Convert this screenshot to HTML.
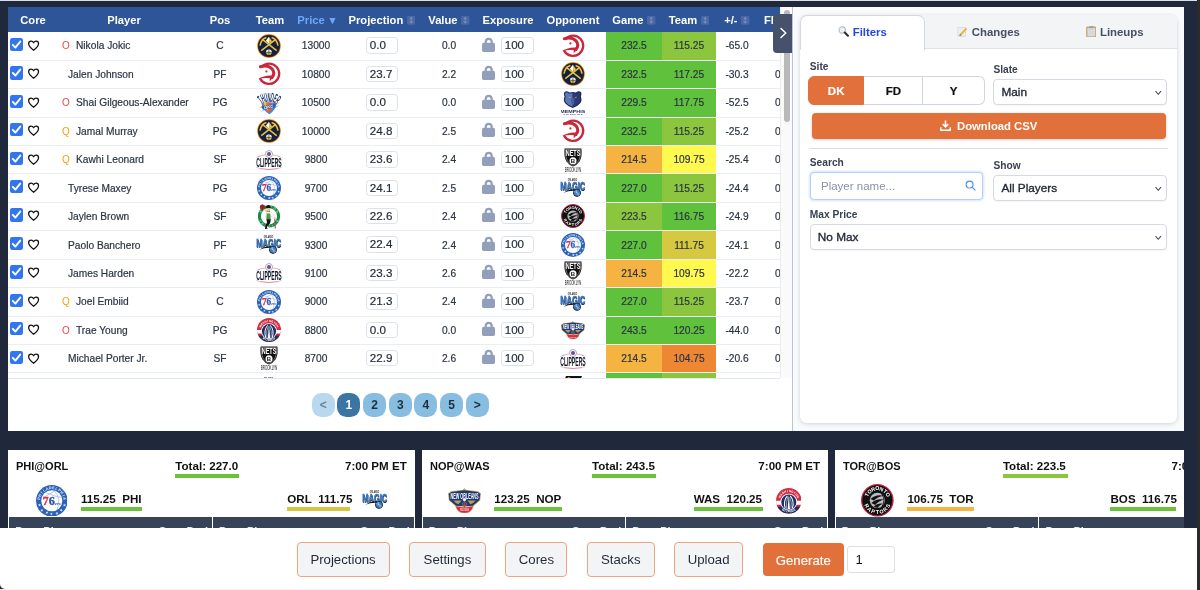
<!DOCTYPE html>
<html lang="en"><head><meta charset="utf-8"><title>NBA Optimizer</title>
<style>
*{box-sizing:border-box}
html,body{margin:0;padding:0}
body{width:1200px;height:590px;overflow:hidden;position:relative;background:#1f293b;font-family:"Liberation Sans",sans-serif;color:#1f2937}
.topstrip{position:absolute;left:0;top:0;width:1196.5px;height:1px;background:#dcdfe6}
.rstrip{position:absolute;left:1196.5px;top:0;width:3.5px;height:590px;background:#2b2b2b;z-index:50}
.main{position:absolute;left:8px;top:7.2px;width:1175.6px;height:423.7px;background:#fff}
.tablewrap{position:absolute;left:0;top:0;width:772px;height:372.3px;overflow:hidden;border-bottom:1px solid #e3e8f0}
table.pt{border-collapse:collapse;table-layout:fixed;width:830px}
table.pt th{height:24.6px;background:#2e5597;color:#fff;font-size:11.2px;font-weight:700;padding:1.6px 0 0 0;text-align:center;white-space:nowrap;vertical-align:middle}
table.pt th.sorted{color:#6ea8fa}
table.pt td{height:28.43px;padding:0.3px 0 0 0;font-size:10.2px;text-align:center;vertical-align:middle;border-bottom:1px solid #e9edf4;color:#2a3342;white-space:nowrap}
.srt{display:inline-block;width:8.4px;height:8.7px;margin-left:3.8px;vertical-align:-0.3px}
.tri{font-size:10.5px;margin-left:2.5px;vertical-align:0.2px}
.cb{display:inline-block;width:12.8px;height:13.2px;border-radius:2.2px;background:#3276ef;vertical-align:middle;margin-left:2.2px;position:relative;top:-1.6px}
.cb svg{display:block;width:12.8px;height:13.2px}
.hrt{width:13.2px;height:13.2px;vertical-align:middle;margin-left:3.6px;position:relative;top:-0.6px}
.c-core{text-align:left !important}
.pl{display:block;text-align:left;padding-left:10px}
.pl.has{padding-left:4px}
.st{display:inline-block;width:14px;font-size:10px}
.st.o{color:#ef4444}.st.q{color:#f59e0b}
.lg{width:24px;height:24px;display:block;margin:-0.6px auto 0 auto}
.inp{display:inline-block;width:31.4px;height:16.4px;border:1px solid #dde1e9;border-radius:3.5px;font-size:11.6px;line-height:14.4px;position:relative;top:-0.5px;text-align:left;padding-left:2.5px;color:#1f2937;background:#fff;vertical-align:middle}
.inp.e{width:32.6px;margin-left:6px}
.lock{width:13px;height:15px;vertical-align:middle;position:relative;top:-1.8px}
.g1{background:#5fc13c}.g2{background:#8cc63f}.or{background:#f5b341}.ye{background:#fff84f}.yo{background:#d6c83f}.do{background:#ee8733}
.c-fp{text-align:left !important;padding-left:17px !important}
.sbar{position:absolute;left:772px;top:0;width:12px;height:371.3px;background:#fafafa;border-left:1px solid #ececec}
.sthumb{position:absolute;left:3.2px;top:2.5px;width:5.6px;height:112px;border-radius:3px;background:#b9b9b9}
.toggle{position:absolute;left:765px;top:6.6px;width:19px;height:39.2px;background:#46526b;border-radius:4px 0 0 4px;z-index:5}
.toggle svg{position:absolute;left:5.5px;top:13.5px;width:9px;height:12px}
.vline{position:absolute;left:784px;top:0;width:1px;height:424px;background:#b9c4d6}
.pager{position:absolute;left:303.8px;top:385.5px;height:24.5px;white-space:nowrap;font-size:0}
.pager span{display:inline-block;width:23px;height:24.5px;border-radius:9.5px;background:#88bde2;color:#1e2d3d;font-size:12px;font-weight:700;line-height:24.5px;text-align:center;margin-right:2.67px}
.pager span.prev{background:#b7d8ee;color:#6f7f8f}
.pager span.cur{background:#3a75a3;color:#fff}
.side{position:absolute;left:785px;top:0;width:390.6px;height:424px;background:#f8fafc}
.card{position:absolute;left:7px;top:7.8px;width:377.4px;height:408.5px;background:#fff;border-radius:7px;box-shadow:0 1px 4px rgba(30,40,60,.18)}
.tabs{position:absolute;left:0;top:0;width:100%;height:34.5px;background:#f3f4f6;border-bottom:1px solid #dfe3ea;border-radius:7px 7px 0 0}
.tab{position:absolute;top:0;height:34.5px;line-height:35px;font-size:11.4px;font-weight:700;color:#465063;text-align:center;white-space:nowrap}
.tab.act{left:0;width:125px;height:35.5px;line-height:33px;background:#fff;border:1px solid #d3d8e1;border-bottom:none;border-radius:7px 7px 0 0;color:#2546e0}
.tab .ic{display:inline-block;vertical-align:-1.5px;margin-right:3.6px}
.lbl{margin-top:0.8px;position:absolute;font-size:10.2px;font-weight:700;color:#374151}
.seg{position:absolute;left:8px;top:61px;width:176.7px;height:29px}
.seg span{position:absolute;top:0;height:29px;line-height:29.6px;text-align:center;font-size:11.5px;font-weight:700;color:#111;background:#fff;border:1px solid #cfd5e0}
.seg .dk{left:0;width:56.3px;background:#e2703a;color:#fff;border-color:#e2703a;border-radius:6px 0 0 6px}
.seg .fd{left:56.3px;width:59px;border-left:none}
.seg .y{left:115.3px;width:61.4px;border-left:none;border-radius:0 6px 6px 0}
.sel{position:absolute;height:25.4px;border:1px solid #d5dae3;border-radius:4px;background:#fff;font-size:11.8px;line-height:24px;padding-left:7px;color:#1f2733;box-shadow:0 1px 1px rgba(0,0,0,.04)}
.sel svg{position:absolute;right:3.5px;top:9.5px;width:8.5px;height:5.5px}
.dl{position:absolute;left:11.5px;top:98px;width:354.4px;height:26.4px;border-radius:4px;background:#e2703a;color:#fff;font-size:11.3px;font-weight:700;line-height:26.4px;text-align:center;box-shadow:0 1px 3px rgba(0,0,0,.2)}
.dl svg{width:11px;height:11px;vertical-align:-1.5px;margin-right:6px}
.hr{position:absolute;left:9px;top:133.5px;width:359px;height:1px;background:#d9dde5}
.search{position:absolute;left:10px;top:157px;width:172.5px;height:28px;border:1px solid #b3cff6;border-radius:4px;box-shadow:0 0 0 1.5px #e3edfc;font-size:11.5px;line-height:26px;padding-left:10px;color:#8a93a3;background:#fff}
.search svg{position:absolute;right:6px;top:7.5px;width:11px;height:11px}
.games{position:absolute;left:0;top:450.4px;width:1183.6px;height:140px;overflow:hidden}
.gc{position:absolute;top:0;width:406.4px;height:140px;background:#fff}
.gc .t{position:absolute;font-size:11.6px;font-weight:700;color:#111;white-space:nowrap}
.gc .u{position:absolute;height:3.6px}
.gc .glogo{position:absolute}
.gc .glogo svg{width:100%;height:100%;margin:0}
.gc .th{position:absolute;top:67px;height:40px;background:#364359}
.gc .th b{position:absolute;top:8.1px;font-size:11px;color:#e5e9f0;font-weight:700}
.bbar{position:absolute;left:0;top:527.5px;width:1196.5px;height:61.2px;background:#fff;border-radius:0 0 0 5px;z-index:20}
.bline{position:absolute;left:0;top:588.7px;width:1196.5px;height:1.3px;background:#eef1f8;z-index:19}
.btn{position:absolute;top:14.7px;height:34.4px;border:1.2px solid #f0a47c;border-radius:4px;background:#f3f4f6;color:#1f2937;font-size:13.2px;line-height:34.8px;text-align:center}
.gen{position:absolute;left:763px;top:15.8px;width:80.5px;height:32.6px;border-radius:4px;background:#e2703a;color:#fff;font-size:13.2px;line-height:35.6px;-webkit-text-stroke:0.15px #fff;text-align:center}
.num{position:absolute;left:847px;top:18.8px;width:48.4px;height:27.2px;border:1px solid #dcdfe6;border-radius:3px;background:#fff;font-size:13px;line-height:26.2px;padding-left:7.5px;color:#111}

.gc .t.ttl{font-size:11.6px;top:8.4px !important;transform:scaleX(0.95);transform-origin:0 50%}
.sel{-webkit-text-stroke:0.35px currentColor}.seg span{-webkit-text-stroke:0.2px currentColor}
.c-pos{padding-left:2px !important}
.c-team .lg{position:relative;left:0}
thead th:nth-child(3),thead th:nth-child(4){padding-left:2px !important}
thead th.sorted{padding-left:3px !important}
table.pt td{-webkit-text-stroke:0.18px currentColor}
.st{-webkit-text-stroke:0}

</style></head>
<body>
<div class="topstrip"></div>
<div class="rstrip"></div>
<div class="main">
  <div class="tablewrap">
    <table class="pt">
      <colgroup><col style="width:50px"><col style="width:132px"><col style="width:58px"><col style="width:42px"><col style="width:52px"><col style="width:80px"><col style="width:54px"><col style="width:64px"><col style="width:66px"><col style="width:56px"><col style="width:54px"><col style="width:42px"><col style="width:80px"></colgroup>
      <thead><tr><th>Core</th><th>Player</th><th>Pos</th><th>Team</th><th class="sorted">Price<span class="tri">&#9660;</span></th><th>Projection<svg class="srt" viewBox="0 0 8.400 8.700"><rect width="8.400" height="8.700" rx="1.400" fill="#4a69a4"/><path d="M4.200 1.400 V7 M2.600 5.400 L4.200 7.200 L5.800 5.400 M3 2.800 L4.200 1.400 L5.400 2.800" fill="none" stroke="#7d98c7" stroke-width="0.900"/></svg></th><th>Value<svg class="srt" viewBox="0 0 8.400 8.700"><rect width="8.400" height="8.700" rx="1.400" fill="#4a69a4"/><path d="M4.200 1.400 V7 M2.600 5.400 L4.200 7.200 L5.800 5.400 M3 2.800 L4.200 1.400 L5.400 2.800" fill="none" stroke="#7d98c7" stroke-width="0.900"/></svg></th><th>Exposure</th><th>Opponent</th><th>Game<svg class="srt" viewBox="0 0 8.400 8.700"><rect width="8.400" height="8.700" rx="1.400" fill="#4a69a4"/><path d="M4.200 1.400 V7 M2.600 5.400 L4.200 7.200 L5.800 5.400 M3 2.800 L4.200 1.400 L5.400 2.800" fill="none" stroke="#7d98c7" stroke-width="0.900"/></svg></th><th>Team<svg class="srt" viewBox="0 0 8.400 8.700"><rect width="8.400" height="8.700" rx="1.400" fill="#4a69a4"/><path d="M4.200 1.400 V7 M2.600 5.400 L4.200 7.200 L5.800 5.400 M3 2.800 L4.200 1.400 L5.400 2.800" fill="none" stroke="#7d98c7" stroke-width="0.900"/></svg></th><th>+/-<svg class="srt" viewBox="0 0 8.400 8.700"><rect width="8.400" height="8.700" rx="1.400" fill="#4a69a4"/><path d="M4.200 1.400 V7 M2.600 5.400 L4.200 7.200 L5.800 5.400 M3 2.800 L4.200 1.400 L5.400 2.800" fill="none" stroke="#7d98c7" stroke-width="0.900"/></svg></th><th style="text-align:left;padding-left:6px">FPPM<svg class="srt" viewBox="0 0 8.400 8.700"><rect width="8.400" height="8.700" rx="1.400" fill="#4a69a4"/><path d="M4.200 1.400 V7 M2.600 5.400 L4.200 7.200 L5.800 5.400 M3 2.800 L4.200 1.400 L5.400 2.800" fill="none" stroke="#7d98c7" stroke-width="0.900"/></svg></th></tr></thead>
      <tbody>
<tr><td class="c-core"><span class="cb"><svg viewBox="0 0 12 12" preserveAspectRatio="none"><path d="M2.600 6.300 L5 8.700 L9.600 3.200" fill="none" stroke="#fff" stroke-width="1.800" stroke-linecap="round" stroke-linejoin="round"/></svg></span><svg class="hrt" viewBox="0 0 24 24"><path d="M12 20.500 C5 15 3 12 3 8.600 C3 5.800 5.200 4 7.500 4 C9.400 4 11 5 12 6.800 C13 5 14.600 4 16.500 4 C18.800 4 21 5.800 21 8.600 C21 12 19 15 12 20.500Z" fill="none" stroke="#111" stroke-width="2.300" stroke-linejoin="round"/></svg></td><td class="c-player"><div class="pl has"><span class="st o">O</span><span class="nm">Nikola Jokic</span></div></td><td class="c-pos">C</td><td class="c-team"><svg class="lg" viewBox="0 0 24 24"><circle cx="12" cy="12" r="11.900" fill="#eeb02e"/><circle cx="12" cy="12" r="11.200" fill="#5a2333"/><circle cx="12" cy="12" r="10.600" fill="#0f2243"/><path d="M4.300 16.700 L19 5.200 M5 5.200 L19.700 16.700" stroke="#f0bf3a" stroke-width="1.500"/><path d="M3 11.600 Q4 5.500 9.400 3.600 M21 11.600 Q20 5.500 14.600 3.600" stroke="#f0bf3a" stroke-width="1.600" fill="none"/><path d="M11.900 2.800 L8.800 6.800 L12.200 9.800Z" fill="#fff"/><path d="M11.900 2.800 L15 7.300 L12.200 9.800Z" fill="#f6c544"/><circle cx="11.900" cy="18.300" r="2.800" fill="#e9b934"/><path d="M9.100 18.300 A2.800 2.800 0 0 1 14.700 18.300Z" fill="#f2f2f2"/><path d="M11.900 15.500 V21.100 M9.100 18.300 H14.700" stroke="#0f2243" stroke-width="0.600"/></svg></td><td class="c-price">13000</td><td class="c-proj"><span class="inp">0.0</span></td><td class="c-val">0.0</td><td class="c-exp"><svg class="lock" viewBox="0 0 13 15"><path d="M3.750 6.500 V4.600 A2.980 2.980 0 0 1 9.700 4.600 V6.500" fill="none" stroke="#919fba" stroke-width="2.200"/><rect x="0" y="5.800" width="13" height="9.200" rx="1.700" fill="#919fba"/></svg><span class="inp e">100</span></td><td class="c-opp"><svg class="lg" viewBox="0 0 24 24"><path d="M4.600 4.700 A10.200 10.200 0 1 1 3.200 16.900" fill="none" stroke="#c8283a" stroke-width="2.300" stroke-linecap="round"/><path d="M3.400 4.800 Q10.500 2.600 15 6.800 Q18.600 11.200 15 15.400" fill="none" stroke="#c8283a" stroke-width="3" stroke-linecap="round"/><path d="M1.200 17 Q7.500 12.800 15 13.500 L16 16 L12.600 19.200 L12.800 16.200 Q7 15.700 1.200 17Z" fill="#c8283a"/><circle cx="9.400" cy="9.400" r="1.100" fill="#c8283a"/></svg></td><td class="c-game g1">232.5</td><td class="c-tm g2">115.25</td><td class="c-pm">-65.0</td><td class="c-fp"></td></tr>
<tr><td class="c-core"><span class="cb"><svg viewBox="0 0 12 12" preserveAspectRatio="none"><path d="M2.600 6.300 L5 8.700 L9.600 3.200" fill="none" stroke="#fff" stroke-width="1.800" stroke-linecap="round" stroke-linejoin="round"/></svg></span><svg class="hrt" viewBox="0 0 24 24"><path d="M12 20.500 C5 15 3 12 3 8.600 C3 5.800 5.200 4 7.500 4 C9.400 4 11 5 12 6.800 C13 5 14.600 4 16.500 4 C18.800 4 21 5.800 21 8.600 C21 12 19 15 12 20.500Z" fill="none" stroke="#111" stroke-width="2.300" stroke-linejoin="round"/></svg></td><td class="c-player"><div class="pl"><span class="nm">Jalen Johnson</span></div></td><td class="c-pos">PF</td><td class="c-team"><svg class="lg" viewBox="0 0 24 24"><path d="M4.600 4.700 A10.200 10.200 0 1 1 3.200 16.900" fill="none" stroke="#c8283a" stroke-width="2.300" stroke-linecap="round"/><path d="M3.400 4.800 Q10.500 2.600 15 6.800 Q18.600 11.200 15 15.400" fill="none" stroke="#c8283a" stroke-width="3" stroke-linecap="round"/><path d="M1.200 17 Q7.500 12.800 15 13.500 L16 16 L12.600 19.200 L12.800 16.200 Q7 15.700 1.200 17Z" fill="#c8283a"/><circle cx="9.400" cy="9.400" r="1.100" fill="#c8283a"/></svg></td><td class="c-price">10800</td><td class="c-proj"><span class="inp">23.7</span></td><td class="c-val">2.2</td><td class="c-exp"><svg class="lock" viewBox="0 0 13 15"><path d="M3.750 6.500 V4.600 A2.980 2.980 0 0 1 9.700 4.600 V6.500" fill="none" stroke="#919fba" stroke-width="2.200"/><rect x="0" y="5.800" width="13" height="9.200" rx="1.700" fill="#919fba"/></svg><span class="inp e">100</span></td><td class="c-opp"><svg class="lg" viewBox="0 0 24 24"><circle cx="12" cy="12" r="11.900" fill="#eeb02e"/><circle cx="12" cy="12" r="11.200" fill="#5a2333"/><circle cx="12" cy="12" r="10.600" fill="#0f2243"/><path d="M4.300 16.700 L19 5.200 M5 5.200 L19.700 16.700" stroke="#f0bf3a" stroke-width="1.500"/><path d="M3 11.600 Q4 5.500 9.400 3.600 M21 11.600 Q20 5.500 14.600 3.600" stroke="#f0bf3a" stroke-width="1.600" fill="none"/><path d="M11.900 2.800 L8.800 6.800 L12.200 9.800Z" fill="#fff"/><path d="M11.900 2.800 L15 7.300 L12.200 9.800Z" fill="#f6c544"/><circle cx="11.900" cy="18.300" r="2.800" fill="#e9b934"/><path d="M9.100 18.300 A2.800 2.800 0 0 1 14.700 18.300Z" fill="#f2f2f2"/><path d="M11.900 15.500 V21.100 M9.100 18.300 H14.700" stroke="#0f2243" stroke-width="0.600"/></svg></td><td class="c-game g1">232.5</td><td class="c-tm g1">117.25</td><td class="c-pm">-30.3</td><td class="c-fp">0</td></tr>
<tr><td class="c-core"><span class="cb"><svg viewBox="0 0 12 12" preserveAspectRatio="none"><path d="M2.600 6.300 L5 8.700 L9.600 3.200" fill="none" stroke="#fff" stroke-width="1.800" stroke-linecap="round" stroke-linejoin="round"/></svg></span><svg class="hrt" viewBox="0 0 24 24"><path d="M12 20.500 C5 15 3 12 3 8.600 C3 5.800 5.200 4 7.500 4 C9.400 4 11 5 12 6.800 C13 5 14.600 4 16.500 4 C18.800 4 21 5.800 21 8.600 C21 12 19 15 12 20.500Z" fill="none" stroke="#111" stroke-width="2.300" stroke-linejoin="round"/></svg></td><td class="c-player"><div class="pl has"><span class="st o">O</span><span class="nm">Shai Gilgeous-Alexander</span></div></td><td class="c-pos">PG</td><td class="c-team"><svg class="lg" viewBox="0 0 24 24"><g font-family="Liberation Sans, sans-serif" font-weight="700" font-size="6.300" fill="#203a74"><text transform="translate(5.65,12.66) rotate(-36) scale(0.660,2.100)" text-anchor="middle">T</text><text transform="translate(7.61,11.53) rotate(-24) scale(0.660,2.100)" text-anchor="middle">H</text><text transform="translate(9.75,10.84) rotate(-12) scale(0.660,2.100)" text-anchor="middle">U</text><text transform="translate(12.00,10.60) rotate(0) scale(0.660,2.100)" text-anchor="middle">N</text><text transform="translate(14.25,10.84) rotate(12) scale(0.660,2.100)" text-anchor="middle">D</text><text transform="translate(16.39,11.53) rotate(24) scale(0.660,2.100)" text-anchor="middle">E</text><text transform="translate(18.35,12.66) rotate(36) scale(0.660,2.100)" text-anchor="middle">R</text></g><path d="M0.800 17.600 L7 14.400 L7 15.800Z" fill="#f08a5a"/><path d="M2.400 21.400 L9 17.400 L9 18.800Z" fill="#7cc0ee"/><path d="M18 13.800 L23.400 11 L18.600 15Z" fill="#f5a98a"/><path d="M18.600 15.600 L22.800 13.800 L17.600 17.400Z" fill="#7cc0ee"/><path d="M4.500 12 Q12 10.400 19.200 12 Q19.600 18.400 12.300 23.200 Q5 18.400 4.500 12Z" fill="#3c8ad6"/><path d="M5.600 12.400 Q11 11.200 16.600 12.200 Q17 17.600 11.800 21.600 Q6.400 17.600 5.600 12.400Z" fill="#ea5f2a"/><path d="M6.400 11.800 Q8 16 11.600 20.400 Q9 14 9.400 11.200Z" fill="#f6c244"/><path d="M4.200 15.600 L18.800 12.600 L18 16.400 L6 18.800Z" fill="#2a5db0"/><text x="11.600" y="17.300" font-family="Liberation Sans, sans-serif" font-weight="700" font-style="italic" font-size="4.200" fill="#fff" text-anchor="middle" transform="rotate(-11 11.600 16)">OKC</text></svg></td><td class="c-price">10500</td><td class="c-proj"><span class="inp">0.0</span></td><td class="c-val">0.0</td><td class="c-exp"><svg class="lock" viewBox="0 0 13 15"><path d="M3.750 6.500 V4.600 A2.980 2.980 0 0 1 9.700 4.600 V6.500" fill="none" stroke="#919fba" stroke-width="2.200"/><rect x="0" y="5.800" width="13" height="9.200" rx="1.700" fill="#919fba"/></svg><span class="inp e">100</span></td><td class="c-opp"><svg class="lg" viewBox="0 0 24 24"><path d="M3 3 Q3 0 5.800 0.200 Q7.600 0.400 8.400 1.600 Q11.700 0.600 15 1.600 Q15.800 0.400 17.600 0.200 Q20.400 0 20.400 3 Q20.400 4.600 19.800 5.400 Q21.600 9.400 19 12.600 Q16 16 11.700 17 Q7.400 16 4.400 12.600 Q1.800 9.400 3.600 5.400 Q3 4.600 3 3Z" fill="#1c2759"/><path d="M4 3.200 Q4 1 6 1.200 Q7.400 1.400 8 2.800 Q10 2 11.700 2 L11.700 15.800 Q8 14.800 5.400 12 Q3 9 4.800 5.400 Q4 4.600 4 3.200Z" fill="#5a77b8"/><path d="M11.700 2 Q14 2 15.600 2.800 Q16.400 1.400 17.600 1.200 Q19.400 1 19.400 3.200 Q19.400 4.600 18.600 5.400 Q20.400 9 18 12 Q15.400 14.800 11.700 15.800Z" fill="#2b3a74"/><path d="M9.800 7.600 L11.700 6.600 L13.600 7.600 L13 13 L11.700 14.600 L10.400 13Z" fill="#46609f"/><path d="M7.800 6.200 l1.600 0.500 M15.600 6.200 l-1.600 0.500" stroke="#e8b64a" stroke-width="0.800"/><text transform="translate(11.800,21.800) scale(1.250,1)" font-size="4.300" font-weight="700" text-anchor="middle" fill="#232c5c" font-family="Liberation Sans, sans-serif">MEMPHIS</text><text x="11.800" y="24.400" font-size="2.500" font-weight="700" text-anchor="middle" fill="#232c5c" textLength="19" lengthAdjust="spacing" font-family="Liberation Sans, sans-serif">GRIZZLIES</text></svg></td><td class="c-game g1">229.5</td><td class="c-tm g1">117.75</td><td class="c-pm">-52.5</td><td class="c-fp">0</td></tr>
<tr><td class="c-core"><span class="cb"><svg viewBox="0 0 12 12" preserveAspectRatio="none"><path d="M2.600 6.300 L5 8.700 L9.600 3.200" fill="none" stroke="#fff" stroke-width="1.800" stroke-linecap="round" stroke-linejoin="round"/></svg></span><svg class="hrt" viewBox="0 0 24 24"><path d="M12 20.500 C5 15 3 12 3 8.600 C3 5.800 5.200 4 7.500 4 C9.400 4 11 5 12 6.800 C13 5 14.600 4 16.500 4 C18.800 4 21 5.800 21 8.600 C21 12 19 15 12 20.500Z" fill="none" stroke="#111" stroke-width="2.300" stroke-linejoin="round"/></svg></td><td class="c-player"><div class="pl has"><span class="st q">Q</span><span class="nm">Jamal Murray</span></div></td><td class="c-pos">PG</td><td class="c-team"><svg class="lg" viewBox="0 0 24 24"><circle cx="12" cy="12" r="11.900" fill="#eeb02e"/><circle cx="12" cy="12" r="11.200" fill="#5a2333"/><circle cx="12" cy="12" r="10.600" fill="#0f2243"/><path d="M4.300 16.700 L19 5.200 M5 5.200 L19.700 16.700" stroke="#f0bf3a" stroke-width="1.500"/><path d="M3 11.600 Q4 5.500 9.400 3.600 M21 11.600 Q20 5.500 14.600 3.600" stroke="#f0bf3a" stroke-width="1.600" fill="none"/><path d="M11.900 2.800 L8.800 6.800 L12.200 9.800Z" fill="#fff"/><path d="M11.900 2.800 L15 7.300 L12.200 9.800Z" fill="#f6c544"/><circle cx="11.900" cy="18.300" r="2.800" fill="#e9b934"/><path d="M9.100 18.300 A2.800 2.800 0 0 1 14.700 18.300Z" fill="#f2f2f2"/><path d="M11.900 15.500 V21.100 M9.100 18.300 H14.700" stroke="#0f2243" stroke-width="0.600"/></svg></td><td class="c-price">10000</td><td class="c-proj"><span class="inp">24.8</span></td><td class="c-val">2.5</td><td class="c-exp"><svg class="lock" viewBox="0 0 13 15"><path d="M3.750 6.500 V4.600 A2.980 2.980 0 0 1 9.700 4.600 V6.500" fill="none" stroke="#919fba" stroke-width="2.200"/><rect x="0" y="5.800" width="13" height="9.200" rx="1.700" fill="#919fba"/></svg><span class="inp e">100</span></td><td class="c-opp"><svg class="lg" viewBox="0 0 24 24"><path d="M4.600 4.700 A10.200 10.200 0 1 1 3.200 16.900" fill="none" stroke="#c8283a" stroke-width="2.300" stroke-linecap="round"/><path d="M3.400 4.800 Q10.500 2.600 15 6.800 Q18.600 11.200 15 15.400" fill="none" stroke="#c8283a" stroke-width="3" stroke-linecap="round"/><path d="M1.200 17 Q7.500 12.800 15 13.500 L16 16 L12.600 19.200 L12.800 16.200 Q7 15.700 1.200 17Z" fill="#c8283a"/><circle cx="9.400" cy="9.400" r="1.100" fill="#c8283a"/></svg></td><td class="c-game g1">232.5</td><td class="c-tm g2">115.25</td><td class="c-pm">-25.2</td><td class="c-fp">0</td></tr>
<tr><td class="c-core"><span class="cb"><svg viewBox="0 0 12 12" preserveAspectRatio="none"><path d="M2.600 6.300 L5 8.700 L9.600 3.200" fill="none" stroke="#fff" stroke-width="1.800" stroke-linecap="round" stroke-linejoin="round"/></svg></span><svg class="hrt" viewBox="0 0 24 24"><path d="M12 20.500 C5 15 3 12 3 8.600 C3 5.800 5.200 4 7.500 4 C9.400 4 11 5 12 6.800 C13 5 14.600 4 16.500 4 C18.800 4 21 5.800 21 8.600 C21 12 19 15 12 20.500Z" fill="none" stroke="#111" stroke-width="2.300" stroke-linejoin="round"/></svg></td><td class="c-player"><div class="pl has"><span class="st q">Q</span><span class="nm">Kawhi Leonard</span></div></td><td class="c-pos">SF</td><td class="c-team"><svg class="lg" viewBox="0 0 26 20" style="width:26px;height:20px;margin-top:-0.400px"><path d="M2 6.600 Q6 5.200 9 5 M24 6.600 Q20 5.200 17 5" stroke="#e58a98" stroke-width="0.700" fill="none"/><path d="M0.500 7.400 L4 6.400 M25.500 7.400 L22 6.400" stroke="#8fa3d8" stroke-width="0.600"/><circle cx="13" cy="4" r="3.500" fill="#fff" stroke="#8d96ad" stroke-width="0.800"/><circle cx="13" cy="4" r="2" fill="#3b5bb0"/><path d="M12.300 2.400 h1.400 v3.200 h-1.400Z" fill="#d6324a"/><text transform="translate(13,17.200) scale(0.590,1.500)" font-size="8.600" font-weight="700" text-anchor="middle" fill="#0d1420" font-family="Liberation Sans, sans-serif">CLIPPERS</text><path d="M3.500 18.600 Q13 20.400 22.500 18.600" stroke="#e0667a" stroke-width="0.800" fill="none"/><path d="M0.500 17.400 L3 18.200 M25.500 17.400 L23 18.200" stroke="#8fa3d8" stroke-width="0.600"/></svg></td><td class="c-price">9800</td><td class="c-proj"><span class="inp">23.6</span></td><td class="c-val">2.4</td><td class="c-exp"><svg class="lock" viewBox="0 0 13 15"><path d="M3.750 6.500 V4.600 A2.980 2.980 0 0 1 9.700 4.600 V6.500" fill="none" stroke="#919fba" stroke-width="2.200"/><rect x="0" y="5.800" width="13" height="9.200" rx="1.700" fill="#919fba"/></svg><span class="inp e">100</span></td><td class="c-opp"><svg class="lg" viewBox="0 0 24 24"><path d="M3.600 0.600 H20.400 Q21.400 8.600 18.600 13.200 Q16 17 12 18.600 Q8 17 5.400 13.200 Q2.600 8.600 3.600 0.600Z" fill="#111"/><path d="M4.600 1.600 H19.400 Q20.200 8.600 17.800 12.600 Q15.400 16 12 17.500 Q8.600 16 6.200 12.600 Q3.800 8.600 4.600 1.600Z" fill="none" stroke="#fff" stroke-width="0.400"/><text transform="translate(12,8) scale(0.780,1.250)" font-size="7" font-weight="700" text-anchor="middle" fill="#fff" font-family="Liberation Sans, sans-serif">NETS</text><circle cx="12" cy="12.800" r="3.500" fill="#fff"/><text x="12" y="15" font-size="6" font-weight="700" text-anchor="middle" fill="#111" font-family="Liberation Sans, sans-serif">B</text><text transform="translate(12,24) scale(0.560,1.400)" font-size="5.400" font-weight="400" text-anchor="middle" fill="#111" font-family="Liberation Sans, sans-serif">BROOKLYN</text></svg></td><td class="c-game or">214.5</td><td class="c-tm ye">109.75</td><td class="c-pm">-25.4</td><td class="c-fp">0</td></tr>
<tr><td class="c-core"><span class="cb"><svg viewBox="0 0 12 12" preserveAspectRatio="none"><path d="M2.600 6.300 L5 8.700 L9.600 3.200" fill="none" stroke="#fff" stroke-width="1.800" stroke-linecap="round" stroke-linejoin="round"/></svg></span><svg class="hrt" viewBox="0 0 24 24"><path d="M12 20.500 C5 15 3 12 3 8.600 C3 5.800 5.200 4 7.500 4 C9.400 4 11 5 12 6.800 C13 5 14.600 4 16.500 4 C18.800 4 21 5.800 21 8.600 C21 12 19 15 12 20.500Z" fill="none" stroke="#111" stroke-width="2.300" stroke-linejoin="round"/></svg></td><td class="c-player"><div class="pl"><span class="nm">Tyrese Maxey</span></div></td><td class="c-pos">PG</td><td class="c-team"><svg class="lg" viewBox="0 0 24 24"><circle cx="12" cy="12" r="12" fill="#2b62b8"/><g font-family="Liberation Sans, sans-serif" font-weight="700" font-size="2.9" fill="#e6eefb"><text transform="translate(3.24,10.45) rotate(-80.0) scale(1,1)" text-anchor="middle">P</text><text transform="translate(3.90,8.30) rotate(-65.5) scale(1,1)" text-anchor="middle">H</text><text transform="translate(5.09,6.39) rotate(-50.9) scale(1,1)" text-anchor="middle">I</text><text transform="translate(6.72,4.83) rotate(-36.4) scale(1,1)" text-anchor="middle">L</text><text transform="translate(8.69,3.74) rotate(-21.8) scale(1,1)" text-anchor="middle">A</text><text transform="translate(10.87,3.17) rotate(-7.3) scale(1,1)" text-anchor="middle">D</text><text transform="translate(13.13,3.17) rotate(7.3) scale(1,1)" text-anchor="middle">E</text><text transform="translate(15.31,3.74) rotate(21.8) scale(1,1)" text-anchor="middle">L</text><text transform="translate(17.28,4.83) rotate(36.4) scale(1,1)" text-anchor="middle">P</text><text transform="translate(18.91,6.39) rotate(50.9) scale(1,1)" text-anchor="middle">H</text><text transform="translate(20.10,8.30) rotate(65.5) scale(1,1)" text-anchor="middle">I</text><text transform="translate(20.76,10.45) rotate(80.0) scale(1,1)" text-anchor="middle">A</text></g><g font-family="Liberation Sans, sans-serif" font-weight="700" font-size="2.6" fill="#e6eefb"><text transform="translate(1.76,15.73) rotate(430.0) scale(1,1)" text-anchor="middle">★</text><text transform="translate(4.07,19.48) rotate(406.7) scale(1,1)" text-anchor="middle">★</text><text transform="translate(7.68,22.01) rotate(383.3) scale(1,1)" text-anchor="middle">★</text><text transform="translate(12.00,22.90) rotate(360.0) scale(1,1)" text-anchor="middle">★</text><text transform="translate(16.32,22.01) rotate(336.7) scale(1,1)" text-anchor="middle">★</text><text transform="translate(19.93,19.48) rotate(313.3) scale(1,1)" text-anchor="middle">★</text><text transform="translate(22.24,15.73) rotate(290.0) scale(1,1)" text-anchor="middle">★</text></g><circle cx="12" cy="12" r="8" fill="#fff"/><path d="M14 4.600 Q19.500 10 16 19 M8 6 Q14 8.600 19.600 9.600 M6.500 9 Q10 7 14.600 4.400" stroke="#9fb9e6" stroke-width="0.600" fill="none"/><text x="9.600" y="15.400" font-size="9.400" font-weight="700" text-anchor="middle" font-family="Liberation Serif, serif" stroke-width="0.250"><tspan fill="#d6324a" stroke="#d6324a">7</tspan><tspan fill="#2b5cb0" stroke="#2b5cb0">6</tspan></text><text x="16.600" y="15.400" font-size="3.800" font-weight="700" font-style="italic" text-anchor="middle" fill="#2b5cb0" font-family="Liberation Serif, serif">ers</text></svg></td><td class="c-price">9700</td><td class="c-proj"><span class="inp">24.1</span></td><td class="c-val">2.5</td><td class="c-exp"><svg class="lock" viewBox="0 0 13 15"><path d="M3.750 6.500 V4.600 A2.980 2.980 0 0 1 9.700 4.600 V6.500" fill="none" stroke="#919fba" stroke-width="2.200"/><rect x="0" y="5.800" width="13" height="9.200" rx="1.700" fill="#919fba"/></svg><span class="inp e">100</span></td><td class="c-opp"><svg class="lg" viewBox="0 0 26 19.500" style="width:26px;height:19.500px;margin-top:-0.600px"><text x="12.500" y="3" font-size="2.700" font-weight="700" text-anchor="middle" fill="#2a2a2a" textLength="9.500" lengthAdjust="spacingAndGlyphs" font-family="Liberation Sans, sans-serif">ORLANDO</text><text transform="translate(13.100,12.600) scale(0.950,1.450)" font-size="7.800" font-weight="700" text-anchor="middle" fill="#1a1d26" font-family="Liberation Sans, sans-serif">MAGIC</text><text transform="translate(12.700,12.300) scale(0.950,1.450)" font-size="7.800" font-weight="700" text-anchor="middle" fill="#4388d2" stroke="#2c5fa6" stroke-width="0.300" font-family="Liberation Sans, sans-serif">MAGIC</text><path d="M3.600 14.800 Q9 10.400 17 11.400 L16.400 13 Q9.500 12 3.600 14.800Z" fill="#111"/><circle cx="17" cy="14.800" r="3.600" fill="#3f7fc6" stroke="#1b2030" stroke-width="0.900"/><path d="M14.200 13.400 Q17 13.800 19.800 16.800 M16 11.600 Q16.300 15.200 18.600 17.800" stroke="#dbe5f3" stroke-width="0.500" fill="none"/></svg></td><td class="c-game g1">227.0</td><td class="c-tm g2">115.25</td><td class="c-pm">-24.4</td><td class="c-fp">0</td></tr>
<tr><td class="c-core"><span class="cb"><svg viewBox="0 0 12 12" preserveAspectRatio="none"><path d="M2.600 6.300 L5 8.700 L9.600 3.200" fill="none" stroke="#fff" stroke-width="1.800" stroke-linecap="round" stroke-linejoin="round"/></svg></span><svg class="hrt" viewBox="0 0 24 24"><path d="M12 20.500 C5 15 3 12 3 8.600 C3 5.800 5.200 4 7.500 4 C9.400 4 11 5 12 6.800 C13 5 14.600 4 16.500 4 C18.800 4 21 5.800 21 8.600 C21 12 19 15 12 20.500Z" fill="none" stroke="#111" stroke-width="2.300" stroke-linejoin="round"/></svg></td><td class="c-player"><div class="pl"><span class="nm">Jaylen Brown</span></div></td><td class="c-pos">SF</td><td class="c-team"><svg class="lg" viewBox="0 0 24 25" style="height:25px;overflow:visible"><circle cx="12" cy="12.300" r="9.600" fill="#fff" stroke="#178a43" stroke-width="3"/><g font-family="Liberation Sans, sans-serif" font-weight="700" font-size="2.6" fill="#e4f4e8"><text transform="translate(4.47,7.95) rotate(-60.0) scale(1,1)" text-anchor="middle">B</text><text transform="translate(6.89,5.26) rotate(-36.0) scale(1,1)" text-anchor="middle">O</text><text transform="translate(10.19,3.79) rotate(-12.0) scale(1,1)" text-anchor="middle">S</text><text transform="translate(13.81,3.79) rotate(12.0) scale(1,1)" text-anchor="middle">T</text><text transform="translate(17.11,5.26) rotate(36.0) scale(1,1)" text-anchor="middle">O</text><text transform="translate(19.53,7.95) rotate(60.0) scale(1,1)" text-anchor="middle">N</text></g><g font-family="Liberation Sans, sans-serif" font-weight="700" font-size="2.6" fill="#e4f4e8"><text transform="translate(2.82,17.60) rotate(420.0) scale(1,1)" text-anchor="middle">C</text><text transform="translate(5.19,20.42) rotate(400.0) scale(1,1)" text-anchor="middle">E</text><text transform="translate(8.37,22.26) rotate(380.0) scale(1,1)" text-anchor="middle">L</text><text transform="translate(12.00,22.90) rotate(360.0) scale(1,1)" text-anchor="middle">T</text><text transform="translate(15.63,22.26) rotate(340.0) scale(1,1)" text-anchor="middle">I</text><text transform="translate(18.81,20.42) rotate(320.0) scale(1,1)" text-anchor="middle">C</text><text transform="translate(21.18,17.60) rotate(300.0) scale(1,1)" text-anchor="middle">S</text></g><path d="M9 2.600 Q11.200 -0.400 13.600 2.400 L13.800 4 H8.800Z" fill="#151515"/><circle cx="11.300" cy="5.800" r="1.900" fill="#e6c39a"/><path d="M9.600 6.400 Q11 8.600 13 6.400 L13 8 H9.600Z" fill="#6b3a1a"/><path d="M9 8 L6.400 5 L7.400 4.400 L10 7.400Z" fill="#e6c39a"/><path d="M9.200 7.800 L13.800 7.800 L18 12.600 L16.600 14.200 L14 11.600 L14 15 L9 15Z" fill="#fbfbfb" stroke="#999" stroke-width="0.300"/><path d="M9.800 9.400 L13.200 9.400 L13.600 15.400 L9.400 15.400Z" fill="#2f9a4a"/><path d="M10.600 10 l1 4 M12.400 10 l-0.600 4" stroke="#b08a2a" stroke-width="0.500"/><path d="M9.400 15.200 H13.800 L13.200 19 L11 22 L10.800 24.800 L8 25 L8.400 21.400 L10 18.400Z" fill="#121212"/><path d="M10.600 21.500 L11.800 24 L9.800 24.400Z" fill="#fff"/><circle cx="5.450" cy="3.100" r="2.700" fill="#a62b2b"/><path d="M3.400 1.800 Q5.400 3 7.600 1.800 M5.450 0.400 V5.800" stroke="#6b1616" stroke-width="0.400" fill="none"/><path d="M17.800 14.400 L18.300 24.600" stroke="#8a2d22" stroke-width="0.900"/><circle cx="17.700" cy="14.200" r="0.900" fill="#e6c39a"/></svg></td><td class="c-price">9500</td><td class="c-proj"><span class="inp">22.6</span></td><td class="c-val">2.4</td><td class="c-exp"><svg class="lock" viewBox="0 0 13 15"><path d="M3.750 6.500 V4.600 A2.980 2.980 0 0 1 9.700 4.600 V6.500" fill="none" stroke="#919fba" stroke-width="2.200"/><rect x="0" y="5.800" width="13" height="9.200" rx="1.700" fill="#919fba"/></svg><span class="inp e">100</span></td><td class="c-opp"><svg class="lg" viewBox="0 0 24 24"><circle cx="12" cy="12" r="11.500" fill="#111" stroke="#c4213f" stroke-width="0.900"/><g font-family="Liberation Sans, sans-serif" font-weight="700" font-size="3.9" fill="#fff"><text transform="translate(5.55,8.57) rotate(-62.0) scale(1,1)" text-anchor="middle">T</text><text transform="translate(7.18,6.52) rotate(-41.3) scale(1,1)" text-anchor="middle">O</text><text transform="translate(9.42,5.17) rotate(-20.7) scale(1,1)" text-anchor="middle">R</text><text transform="translate(12.00,4.70) rotate(0.0) scale(1,1)" text-anchor="middle">O</text><text transform="translate(14.58,5.17) rotate(20.7) scale(1,1)" text-anchor="middle">N</text><text transform="translate(16.82,6.52) rotate(41.3) scale(1,1)" text-anchor="middle">T</text><text transform="translate(18.45,8.57) rotate(62.0) scale(1,1)" text-anchor="middle">O</text></g><g font-family="Liberation Sans, sans-serif" font-weight="700" font-size="3.9" fill="#fff"><text transform="translate(3.08,16.74) rotate(422.0) scale(1,1)" text-anchor="middle">R</text><text transform="translate(5.33,19.58) rotate(401.3) scale(1,1)" text-anchor="middle">A</text><text transform="translate(8.44,21.45) rotate(380.7) scale(1,1)" text-anchor="middle">P</text><text transform="translate(12.00,22.10) rotate(360.0) scale(1,1)" text-anchor="middle">T</text><text transform="translate(15.56,21.45) rotate(339.3) scale(1,1)" text-anchor="middle">O</text><text transform="translate(18.67,19.58) rotate(318.7) scale(1,1)" text-anchor="middle">R</text><text transform="translate(20.92,16.74) rotate(298.0) scale(1,1)" text-anchor="middle">S</text></g><circle cx="12" cy="12" r="5.600" fill="#b9bcc0"/><path d="M7 11 Q11 7.400 16.400 8.600 Q12 9.400 9.400 12.200Z M7.600 14 Q11 10.400 16.800 11.400 Q12.600 12.600 10.400 15.400Z M9.400 16.600 Q12 13.800 16.200 14.400 Q13.400 15.600 12 17.600Z" fill="#111"/><path d="M15.400 7.600 Q18.400 12 15.400 16.600" stroke="#111" stroke-width="0.700" fill="none"/></svg></td><td class="c-game g2">223.5</td><td class="c-tm g1">116.75</td><td class="c-pm">-24.9</td><td class="c-fp">0</td></tr>
<tr><td class="c-core"><span class="cb"><svg viewBox="0 0 12 12" preserveAspectRatio="none"><path d="M2.600 6.300 L5 8.700 L9.600 3.200" fill="none" stroke="#fff" stroke-width="1.800" stroke-linecap="round" stroke-linejoin="round"/></svg></span><svg class="hrt" viewBox="0 0 24 24"><path d="M12 20.500 C5 15 3 12 3 8.600 C3 5.800 5.200 4 7.500 4 C9.400 4 11 5 12 6.800 C13 5 14.600 4 16.500 4 C18.800 4 21 5.800 21 8.600 C21 12 19 15 12 20.500Z" fill="none" stroke="#111" stroke-width="2.300" stroke-linejoin="round"/></svg></td><td class="c-player"><div class="pl"><span class="nm">Paolo Banchero</span></div></td><td class="c-pos">PF</td><td class="c-team"><svg class="lg" viewBox="0 0 26 19.500" style="width:26px;height:19.500px;margin-top:-0.600px"><text x="12.500" y="3" font-size="2.700" font-weight="700" text-anchor="middle" fill="#2a2a2a" textLength="9.500" lengthAdjust="spacingAndGlyphs" font-family="Liberation Sans, sans-serif">ORLANDO</text><text transform="translate(13.100,12.600) scale(0.950,1.450)" font-size="7.800" font-weight="700" text-anchor="middle" fill="#1a1d26" font-family="Liberation Sans, sans-serif">MAGIC</text><text transform="translate(12.700,12.300) scale(0.950,1.450)" font-size="7.800" font-weight="700" text-anchor="middle" fill="#4388d2" stroke="#2c5fa6" stroke-width="0.300" font-family="Liberation Sans, sans-serif">MAGIC</text><path d="M3.600 14.800 Q9 10.400 17 11.400 L16.400 13 Q9.500 12 3.600 14.800Z" fill="#111"/><circle cx="17" cy="14.800" r="3.600" fill="#3f7fc6" stroke="#1b2030" stroke-width="0.900"/><path d="M14.200 13.400 Q17 13.800 19.800 16.800 M16 11.600 Q16.300 15.200 18.600 17.800" stroke="#dbe5f3" stroke-width="0.500" fill="none"/></svg></td><td class="c-price">9300</td><td class="c-proj"><span class="inp">22.4</span></td><td class="c-val">2.4</td><td class="c-exp"><svg class="lock" viewBox="0 0 13 15"><path d="M3.750 6.500 V4.600 A2.980 2.980 0 0 1 9.700 4.600 V6.500" fill="none" stroke="#919fba" stroke-width="2.200"/><rect x="0" y="5.800" width="13" height="9.200" rx="1.700" fill="#919fba"/></svg><span class="inp e">100</span></td><td class="c-opp"><svg class="lg" viewBox="0 0 24 24"><circle cx="12" cy="12" r="12" fill="#2b62b8"/><g font-family="Liberation Sans, sans-serif" font-weight="700" font-size="2.9" fill="#e6eefb"><text transform="translate(3.24,10.45) rotate(-80.0) scale(1,1)" text-anchor="middle">P</text><text transform="translate(3.90,8.30) rotate(-65.5) scale(1,1)" text-anchor="middle">H</text><text transform="translate(5.09,6.39) rotate(-50.9) scale(1,1)" text-anchor="middle">I</text><text transform="translate(6.72,4.83) rotate(-36.4) scale(1,1)" text-anchor="middle">L</text><text transform="translate(8.69,3.74) rotate(-21.8) scale(1,1)" text-anchor="middle">A</text><text transform="translate(10.87,3.17) rotate(-7.3) scale(1,1)" text-anchor="middle">D</text><text transform="translate(13.13,3.17) rotate(7.3) scale(1,1)" text-anchor="middle">E</text><text transform="translate(15.31,3.74) rotate(21.8) scale(1,1)" text-anchor="middle">L</text><text transform="translate(17.28,4.83) rotate(36.4) scale(1,1)" text-anchor="middle">P</text><text transform="translate(18.91,6.39) rotate(50.9) scale(1,1)" text-anchor="middle">H</text><text transform="translate(20.10,8.30) rotate(65.5) scale(1,1)" text-anchor="middle">I</text><text transform="translate(20.76,10.45) rotate(80.0) scale(1,1)" text-anchor="middle">A</text></g><g font-family="Liberation Sans, sans-serif" font-weight="700" font-size="2.6" fill="#e6eefb"><text transform="translate(1.76,15.73) rotate(430.0) scale(1,1)" text-anchor="middle">★</text><text transform="translate(4.07,19.48) rotate(406.7) scale(1,1)" text-anchor="middle">★</text><text transform="translate(7.68,22.01) rotate(383.3) scale(1,1)" text-anchor="middle">★</text><text transform="translate(12.00,22.90) rotate(360.0) scale(1,1)" text-anchor="middle">★</text><text transform="translate(16.32,22.01) rotate(336.7) scale(1,1)" text-anchor="middle">★</text><text transform="translate(19.93,19.48) rotate(313.3) scale(1,1)" text-anchor="middle">★</text><text transform="translate(22.24,15.73) rotate(290.0) scale(1,1)" text-anchor="middle">★</text></g><circle cx="12" cy="12" r="8" fill="#fff"/><path d="M14 4.600 Q19.500 10 16 19 M8 6 Q14 8.600 19.600 9.600 M6.500 9 Q10 7 14.600 4.400" stroke="#9fb9e6" stroke-width="0.600" fill="none"/><text x="9.600" y="15.400" font-size="9.400" font-weight="700" text-anchor="middle" font-family="Liberation Serif, serif" stroke-width="0.250"><tspan fill="#d6324a" stroke="#d6324a">7</tspan><tspan fill="#2b5cb0" stroke="#2b5cb0">6</tspan></text><text x="16.600" y="15.400" font-size="3.800" font-weight="700" font-style="italic" text-anchor="middle" fill="#2b5cb0" font-family="Liberation Serif, serif">ers</text></svg></td><td class="c-game g1">227.0</td><td class="c-tm yo">111.75</td><td class="c-pm">-24.1</td><td class="c-fp">0</td></tr>
<tr><td class="c-core"><span class="cb"><svg viewBox="0 0 12 12" preserveAspectRatio="none"><path d="M2.600 6.300 L5 8.700 L9.600 3.200" fill="none" stroke="#fff" stroke-width="1.800" stroke-linecap="round" stroke-linejoin="round"/></svg></span><svg class="hrt" viewBox="0 0 24 24"><path d="M12 20.500 C5 15 3 12 3 8.600 C3 5.800 5.200 4 7.500 4 C9.400 4 11 5 12 6.800 C13 5 14.600 4 16.500 4 C18.800 4 21 5.800 21 8.600 C21 12 19 15 12 20.500Z" fill="none" stroke="#111" stroke-width="2.300" stroke-linejoin="round"/></svg></td><td class="c-player"><div class="pl"><span class="nm">James Harden</span></div></td><td class="c-pos">PG</td><td class="c-team"><svg class="lg" viewBox="0 0 26 20" style="width:26px;height:20px;margin-top:-0.400px"><path d="M2 6.600 Q6 5.200 9 5 M24 6.600 Q20 5.200 17 5" stroke="#e58a98" stroke-width="0.700" fill="none"/><path d="M0.500 7.400 L4 6.400 M25.500 7.400 L22 6.400" stroke="#8fa3d8" stroke-width="0.600"/><circle cx="13" cy="4" r="3.500" fill="#fff" stroke="#8d96ad" stroke-width="0.800"/><circle cx="13" cy="4" r="2" fill="#3b5bb0"/><path d="M12.300 2.400 h1.400 v3.200 h-1.400Z" fill="#d6324a"/><text transform="translate(13,17.200) scale(0.590,1.500)" font-size="8.600" font-weight="700" text-anchor="middle" fill="#0d1420" font-family="Liberation Sans, sans-serif">CLIPPERS</text><path d="M3.500 18.600 Q13 20.400 22.500 18.600" stroke="#e0667a" stroke-width="0.800" fill="none"/><path d="M0.500 17.400 L3 18.200 M25.500 17.400 L23 18.200" stroke="#8fa3d8" stroke-width="0.600"/></svg></td><td class="c-price">9100</td><td class="c-proj"><span class="inp">23.3</span></td><td class="c-val">2.6</td><td class="c-exp"><svg class="lock" viewBox="0 0 13 15"><path d="M3.750 6.500 V4.600 A2.980 2.980 0 0 1 9.700 4.600 V6.500" fill="none" stroke="#919fba" stroke-width="2.200"/><rect x="0" y="5.800" width="13" height="9.200" rx="1.700" fill="#919fba"/></svg><span class="inp e">100</span></td><td class="c-opp"><svg class="lg" viewBox="0 0 24 24"><path d="M3.600 0.600 H20.400 Q21.400 8.600 18.600 13.200 Q16 17 12 18.600 Q8 17 5.400 13.200 Q2.600 8.600 3.600 0.600Z" fill="#111"/><path d="M4.600 1.600 H19.400 Q20.200 8.600 17.800 12.600 Q15.400 16 12 17.500 Q8.600 16 6.200 12.600 Q3.800 8.600 4.600 1.600Z" fill="none" stroke="#fff" stroke-width="0.400"/><text transform="translate(12,8) scale(0.780,1.250)" font-size="7" font-weight="700" text-anchor="middle" fill="#fff" font-family="Liberation Sans, sans-serif">NETS</text><circle cx="12" cy="12.800" r="3.500" fill="#fff"/><text x="12" y="15" font-size="6" font-weight="700" text-anchor="middle" fill="#111" font-family="Liberation Sans, sans-serif">B</text><text transform="translate(12,24) scale(0.560,1.400)" font-size="5.400" font-weight="400" text-anchor="middle" fill="#111" font-family="Liberation Sans, sans-serif">BROOKLYN</text></svg></td><td class="c-game or">214.5</td><td class="c-tm ye">109.75</td><td class="c-pm">-22.2</td><td class="c-fp">0</td></tr>
<tr><td class="c-core"><span class="cb"><svg viewBox="0 0 12 12" preserveAspectRatio="none"><path d="M2.600 6.300 L5 8.700 L9.600 3.200" fill="none" stroke="#fff" stroke-width="1.800" stroke-linecap="round" stroke-linejoin="round"/></svg></span><svg class="hrt" viewBox="0 0 24 24"><path d="M12 20.500 C5 15 3 12 3 8.600 C3 5.800 5.200 4 7.500 4 C9.400 4 11 5 12 6.800 C13 5 14.600 4 16.500 4 C18.800 4 21 5.800 21 8.600 C21 12 19 15 12 20.500Z" fill="none" stroke="#111" stroke-width="2.300" stroke-linejoin="round"/></svg></td><td class="c-player"><div class="pl has"><span class="st q">Q</span><span class="nm">Joel Embiid</span></div></td><td class="c-pos">C</td><td class="c-team"><svg class="lg" viewBox="0 0 24 24"><circle cx="12" cy="12" r="12" fill="#2b62b8"/><g font-family="Liberation Sans, sans-serif" font-weight="700" font-size="2.9" fill="#e6eefb"><text transform="translate(3.24,10.45) rotate(-80.0) scale(1,1)" text-anchor="middle">P</text><text transform="translate(3.90,8.30) rotate(-65.5) scale(1,1)" text-anchor="middle">H</text><text transform="translate(5.09,6.39) rotate(-50.9) scale(1,1)" text-anchor="middle">I</text><text transform="translate(6.72,4.83) rotate(-36.4) scale(1,1)" text-anchor="middle">L</text><text transform="translate(8.69,3.74) rotate(-21.8) scale(1,1)" text-anchor="middle">A</text><text transform="translate(10.87,3.17) rotate(-7.3) scale(1,1)" text-anchor="middle">D</text><text transform="translate(13.13,3.17) rotate(7.3) scale(1,1)" text-anchor="middle">E</text><text transform="translate(15.31,3.74) rotate(21.8) scale(1,1)" text-anchor="middle">L</text><text transform="translate(17.28,4.83) rotate(36.4) scale(1,1)" text-anchor="middle">P</text><text transform="translate(18.91,6.39) rotate(50.9) scale(1,1)" text-anchor="middle">H</text><text transform="translate(20.10,8.30) rotate(65.5) scale(1,1)" text-anchor="middle">I</text><text transform="translate(20.76,10.45) rotate(80.0) scale(1,1)" text-anchor="middle">A</text></g><g font-family="Liberation Sans, sans-serif" font-weight="700" font-size="2.6" fill="#e6eefb"><text transform="translate(1.76,15.73) rotate(430.0) scale(1,1)" text-anchor="middle">★</text><text transform="translate(4.07,19.48) rotate(406.7) scale(1,1)" text-anchor="middle">★</text><text transform="translate(7.68,22.01) rotate(383.3) scale(1,1)" text-anchor="middle">★</text><text transform="translate(12.00,22.90) rotate(360.0) scale(1,1)" text-anchor="middle">★</text><text transform="translate(16.32,22.01) rotate(336.7) scale(1,1)" text-anchor="middle">★</text><text transform="translate(19.93,19.48) rotate(313.3) scale(1,1)" text-anchor="middle">★</text><text transform="translate(22.24,15.73) rotate(290.0) scale(1,1)" text-anchor="middle">★</text></g><circle cx="12" cy="12" r="8" fill="#fff"/><path d="M14 4.600 Q19.500 10 16 19 M8 6 Q14 8.600 19.600 9.600 M6.500 9 Q10 7 14.600 4.400" stroke="#9fb9e6" stroke-width="0.600" fill="none"/><text x="9.600" y="15.400" font-size="9.400" font-weight="700" text-anchor="middle" font-family="Liberation Serif, serif" stroke-width="0.250"><tspan fill="#d6324a" stroke="#d6324a">7</tspan><tspan fill="#2b5cb0" stroke="#2b5cb0">6</tspan></text><text x="16.600" y="15.400" font-size="3.800" font-weight="700" font-style="italic" text-anchor="middle" fill="#2b5cb0" font-family="Liberation Serif, serif">ers</text></svg></td><td class="c-price">9000</td><td class="c-proj"><span class="inp">21.3</span></td><td class="c-val">2.4</td><td class="c-exp"><svg class="lock" viewBox="0 0 13 15"><path d="M3.750 6.500 V4.600 A2.980 2.980 0 0 1 9.700 4.600 V6.500" fill="none" stroke="#919fba" stroke-width="2.200"/><rect x="0" y="5.800" width="13" height="9.200" rx="1.700" fill="#919fba"/></svg><span class="inp e">100</span></td><td class="c-opp"><svg class="lg" viewBox="0 0 26 19.500" style="width:26px;height:19.500px;margin-top:-0.600px"><text x="12.500" y="3" font-size="2.700" font-weight="700" text-anchor="middle" fill="#2a2a2a" textLength="9.500" lengthAdjust="spacingAndGlyphs" font-family="Liberation Sans, sans-serif">ORLANDO</text><text transform="translate(13.100,12.600) scale(0.950,1.450)" font-size="7.800" font-weight="700" text-anchor="middle" fill="#1a1d26" font-family="Liberation Sans, sans-serif">MAGIC</text><text transform="translate(12.700,12.300) scale(0.950,1.450)" font-size="7.800" font-weight="700" text-anchor="middle" fill="#4388d2" stroke="#2c5fa6" stroke-width="0.300" font-family="Liberation Sans, sans-serif">MAGIC</text><path d="M3.600 14.800 Q9 10.400 17 11.400 L16.400 13 Q9.500 12 3.600 14.800Z" fill="#111"/><circle cx="17" cy="14.800" r="3.600" fill="#3f7fc6" stroke="#1b2030" stroke-width="0.900"/><path d="M14.200 13.400 Q17 13.800 19.800 16.800 M16 11.600 Q16.300 15.200 18.600 17.800" stroke="#dbe5f3" stroke-width="0.500" fill="none"/></svg></td><td class="c-game g1">227.0</td><td class="c-tm g2">115.25</td><td class="c-pm">-23.7</td><td class="c-fp">0</td></tr>
<tr><td class="c-core"><span class="cb"><svg viewBox="0 0 12 12" preserveAspectRatio="none"><path d="M2.600 6.300 L5 8.700 L9.600 3.200" fill="none" stroke="#fff" stroke-width="1.800" stroke-linecap="round" stroke-linejoin="round"/></svg></span><svg class="hrt" viewBox="0 0 24 24"><path d="M12 20.500 C5 15 3 12 3 8.600 C3 5.800 5.200 4 7.500 4 C9.400 4 11 5 12 6.800 C13 5 14.600 4 16.500 4 C18.800 4 21 5.800 21 8.600 C21 12 19 15 12 20.500Z" fill="none" stroke="#111" stroke-width="2.300" stroke-linejoin="round"/></svg></td><td class="c-player"><div class="pl has"><span class="st o">O</span><span class="nm">Trae Young</span></div></td><td class="c-pos">PG</td><td class="c-team"><svg class="lg" viewBox="0 0 24 24"><circle cx="12" cy="12" r="12" fill="#d22f45"/><path d="M0 12 H24 A12 12 0 0 1 23.400 15.600 H0.600 A12 12 0 0 1 0 12Z" fill="#fff"/><path d="M1.400 17.600 H22.600 A12 12 0 0 1 1.400 17.600Z" fill="#1b2f63"/><g font-family="Liberation Sans, sans-serif" font-weight="700" font-size="2.7" fill="#fff"><text transform="translate(4.32,8.52) rotate(-62.0) scale(1,1)" text-anchor="middle">W</text><text transform="translate(5.51,6.80) rotate(-48.2) scale(1,1)" text-anchor="middle">A</text><text transform="translate(7.08,5.43) rotate(-34.4) scale(1,1)" text-anchor="middle">S</text><text transform="translate(8.93,4.46) rotate(-20.7) scale(1,1)" text-anchor="middle">H</text><text transform="translate(10.96,3.96) rotate(-6.9) scale(1,1)" text-anchor="middle">I</text><text transform="translate(13.04,3.96) rotate(6.9) scale(1,1)" text-anchor="middle">N</text><text transform="translate(15.07,4.46) rotate(20.7) scale(1,1)" text-anchor="middle">G</text><text transform="translate(16.92,5.43) rotate(34.4) scale(1,1)" text-anchor="middle">T</text><text transform="translate(18.49,6.80) rotate(48.2) scale(1,1)" text-anchor="middle">O</text><text transform="translate(19.68,8.52) rotate(62.0) scale(1,1)" text-anchor="middle">N</text></g><g font-family="Liberation Sans, sans-serif" font-weight="700" font-size="2.6" fill="#fff"><text transform="translate(6.22,21.24) rotate(392.0) scale(1,1)" text-anchor="middle">W</text><text transform="translate(8.03,22.15) rotate(381.3) scale(1,1)" text-anchor="middle">I</text><text transform="translate(9.98,22.71) rotate(370.7) scale(1,1)" text-anchor="middle">Z</text><text transform="translate(12.00,22.90) rotate(360.0) scale(1,1)" text-anchor="middle">A</text><text transform="translate(14.02,22.71) rotate(349.3) scale(1,1)" text-anchor="middle">R</text><text transform="translate(15.97,22.15) rotate(338.7) scale(1,1)" text-anchor="middle">D</text><text transform="translate(17.78,21.24) rotate(328.0) scale(1,1)" text-anchor="middle">S</text></g><circle cx="12" cy="13.200" r="7.900" fill="#fff"/><circle cx="12" cy="13.200" r="7.100" fill="#1b2f63"/><path d="M12 6.400 L13.100 20 H10.900Z" fill="#fff"/><path d="M10.600 7.400 Q6.600 12 8.600 19.200 M13.400 7.400 Q17.400 12 15.400 19.200" stroke="#fff" stroke-width="1" fill="none"/><path d="M11.200 8.400 Q8.800 13 10 19.800 M12.800 8.400 Q15.200 13 14 19.800" stroke="#fff" stroke-width="0.500" fill="none"/></svg></td><td class="c-price">8800</td><td class="c-proj"><span class="inp">0.0</span></td><td class="c-val">0.0</td><td class="c-exp"><svg class="lock" viewBox="0 0 13 15"><path d="M3.750 6.500 V4.600 A2.980 2.980 0 0 1 9.700 4.600 V6.500" fill="none" stroke="#919fba" stroke-width="2.200"/><rect x="0" y="5.800" width="13" height="9.200" rx="1.700" fill="#919fba"/></svg><span class="inp e">100</span></td><td class="c-opp"><svg class="lg" viewBox="0 0 33 25"><path d="M0 5.400 L3 3.200 L14.800 1.800 L16.400 0 L18 1.800 L30 3.200 L33 5.400 L32.200 12.400 L25 18.600 H8 L0.800 12.400Z" fill="#c9a960"/><path d="M0.800 5.800 L3.300 3.900 L16.400 2.200 L29.700 3.900 L32.200 5.800 L31.500 12 L24.600 18 H8.400 L1.500 12Z" fill="#1f3a73"/><path d="M5.500 12.600 H13.600 L10.400 16.200 Q7.500 15.600 5.500 12.600Z M27.500 12.600 H19.400 L22.600 16.200 Q25.500 15.600 27.500 12.600Z" fill="#b89d58"/><path d="M7.600 18 Q16.500 20.400 25.400 18 Q23.500 25.200 16.500 25 Q9.500 25.200 7.600 18Z" fill="#d22f45" stroke="#c9a960" stroke-width="0.500"/><text transform="translate(16.500,11.400) scale(0.400,1)" font-size="9.400" font-weight="700" text-anchor="middle" fill="#fff" font-family="Liberation Sans, sans-serif">NEW ORLEANS</text><path d="M14.600 10.500 h3.800 v2.600 h-3.800Z" fill="#1f3a73"/><circle cx="16.500" cy="11.600" r="1.700" fill="#f2f2f2"/><path d="M16.500 13 L17.600 19 L16.500 21 L15.400 19Z" fill="#d22f45"/><path d="M14.600 15 L16.500 13.600 L18.400 15 L17.600 19.400 H15.400Z" fill="none" stroke="#c9a960" stroke-width="0.500"/><text x="16.500" y="23.400" font-size="2.600" font-weight="700" text-anchor="middle" fill="#f6d9dd" textLength="9" lengthAdjust="spacingAndGlyphs" font-family="Liberation Sans, sans-serif">PELICANS</text></svg></td><td class="c-game g1">243.5</td><td class="c-tm g1">120.25</td><td class="c-pm">-44.0</td><td class="c-fp">0</td></tr>
<tr><td class="c-core"><span class="cb"><svg viewBox="0 0 12 12" preserveAspectRatio="none"><path d="M2.600 6.300 L5 8.700 L9.600 3.200" fill="none" stroke="#fff" stroke-width="1.800" stroke-linecap="round" stroke-linejoin="round"/></svg></span><svg class="hrt" viewBox="0 0 24 24"><path d="M12 20.500 C5 15 3 12 3 8.600 C3 5.800 5.200 4 7.500 4 C9.400 4 11 5 12 6.800 C13 5 14.600 4 16.500 4 C18.800 4 21 5.800 21 8.600 C21 12 19 15 12 20.500Z" fill="none" stroke="#111" stroke-width="2.300" stroke-linejoin="round"/></svg></td><td class="c-player"><div class="pl"><span class="nm">Michael Porter Jr.</span></div></td><td class="c-pos">SF</td><td class="c-team"><svg class="lg" viewBox="0 0 24 24"><path d="M3.600 0.600 H20.400 Q21.400 8.600 18.600 13.200 Q16 17 12 18.600 Q8 17 5.400 13.200 Q2.600 8.600 3.600 0.600Z" fill="#111"/><path d="M4.600 1.600 H19.400 Q20.200 8.600 17.800 12.600 Q15.400 16 12 17.500 Q8.600 16 6.200 12.600 Q3.800 8.600 4.600 1.600Z" fill="none" stroke="#fff" stroke-width="0.400"/><text transform="translate(12,8) scale(0.780,1.250)" font-size="7" font-weight="700" text-anchor="middle" fill="#fff" font-family="Liberation Sans, sans-serif">NETS</text><circle cx="12" cy="12.800" r="3.500" fill="#fff"/><text x="12" y="15" font-size="6" font-weight="700" text-anchor="middle" fill="#111" font-family="Liberation Sans, sans-serif">B</text><text transform="translate(12,24) scale(0.560,1.400)" font-size="5.400" font-weight="400" text-anchor="middle" fill="#111" font-family="Liberation Sans, sans-serif">BROOKLYN</text></svg></td><td class="c-price">8700</td><td class="c-proj"><span class="inp">22.9</span></td><td class="c-val">2.6</td><td class="c-exp"><svg class="lock" viewBox="0 0 13 15"><path d="M3.750 6.500 V4.600 A2.980 2.980 0 0 1 9.700 4.600 V6.500" fill="none" stroke="#919fba" stroke-width="2.200"/><rect x="0" y="5.800" width="13" height="9.200" rx="1.700" fill="#919fba"/></svg><span class="inp e">100</span></td><td class="c-opp"><svg class="lg" viewBox="0 0 26 20" style="width:26px;height:20px;margin-top:-0.400px"><path d="M2 6.600 Q6 5.200 9 5 M24 6.600 Q20 5.200 17 5" stroke="#e58a98" stroke-width="0.700" fill="none"/><path d="M0.500 7.400 L4 6.400 M25.500 7.400 L22 6.400" stroke="#8fa3d8" stroke-width="0.600"/><circle cx="13" cy="4" r="3.500" fill="#fff" stroke="#8d96ad" stroke-width="0.800"/><circle cx="13" cy="4" r="2" fill="#3b5bb0"/><path d="M12.300 2.400 h1.400 v3.200 h-1.400Z" fill="#d6324a"/><text transform="translate(13,17.200) scale(0.590,1.500)" font-size="8.600" font-weight="700" text-anchor="middle" fill="#0d1420" font-family="Liberation Sans, sans-serif">CLIPPERS</text><path d="M3.500 18.600 Q13 20.400 22.500 18.600" stroke="#e0667a" stroke-width="0.800" fill="none"/><path d="M0.500 17.400 L3 18.200 M25.500 17.400 L23 18.200" stroke="#8fa3d8" stroke-width="0.600"/></svg></td><td class="c-game or">214.5</td><td class="c-tm do">104.75</td><td class="c-pm">-20.6</td><td class="c-fp">0</td></tr>
<tr><td class="c-core"><span class="cb"><svg viewBox="0 0 12 12" preserveAspectRatio="none"><path d="M2.600 6.300 L5 8.700 L9.600 3.200" fill="none" stroke="#fff" stroke-width="1.800" stroke-linecap="round" stroke-linejoin="round"/></svg></span><svg class="hrt" viewBox="0 0 24 24"><path d="M12 20.500 C5 15 3 12 3 8.600 C3 5.800 5.200 4 7.500 4 C9.400 4 11 5 12 6.800 C13 5 14.600 4 16.500 4 C18.800 4 21 5.800 21 8.600 C21 12 19 15 12 20.500Z" fill="none" stroke="#111" stroke-width="2.300" stroke-linejoin="round"/></svg></td><td class="c-player"><div class="pl"><span class="nm">Franz Wagner</span></div></td><td class="c-pos">SF</td><td class="c-team"><svg class="lg" viewBox="0 0 26 19.500" style="width:26px;height:19.500px;margin-top:-0.600px"><text x="12.500" y="3" font-size="2.700" font-weight="700" text-anchor="middle" fill="#2a2a2a" textLength="9.500" lengthAdjust="spacingAndGlyphs" font-family="Liberation Sans, sans-serif">ORLANDO</text><text transform="translate(13.100,12.600) scale(0.950,1.450)" font-size="7.800" font-weight="700" text-anchor="middle" fill="#1a1d26" font-family="Liberation Sans, sans-serif">MAGIC</text><text transform="translate(12.700,12.300) scale(0.950,1.450)" font-size="7.800" font-weight="700" text-anchor="middle" fill="#4388d2" stroke="#2c5fa6" stroke-width="0.300" font-family="Liberation Sans, sans-serif">MAGIC</text><path d="M3.600 14.800 Q9 10.400 17 11.400 L16.400 13 Q9.500 12 3.600 14.800Z" fill="#111"/><circle cx="17" cy="14.800" r="3.600" fill="#3f7fc6" stroke="#1b2030" stroke-width="0.900"/><path d="M14.200 13.400 Q17 13.800 19.800 16.800 M16 11.600 Q16.300 15.200 18.600 17.800" stroke="#dbe5f3" stroke-width="0.500" fill="none"/></svg></td><td class="c-price">8600</td><td class="c-proj"><span class="inp">21.8</span></td><td class="c-val">2.5</td><td class="c-exp"><svg class="lock" viewBox="0 0 13 15"><path d="M3.750 6.500 V4.600 A2.980 2.980 0 0 1 9.700 4.600 V6.500" fill="none" stroke="#919fba" stroke-width="2.200"/><rect x="0" y="5.800" width="13" height="9.200" rx="1.700" fill="#919fba"/></svg><span class="inp e">100</span></td><td class="c-opp"><svg class="lg" viewBox="0 0 24 24"><path d="M5 1 H21 L19 6 H3Z" fill="#111"/><text x="12" y="5.600" font-size="4.600" font-weight="700" text-anchor="middle" fill="#f29a2e" font-family="Liberation Sans, sans-serif">Suns</text></svg></td><td class="c-game g1">227.0</td><td class="c-tm g2">111.75</td><td class="c-pm">-21.0</td><td class="c-fp">0</td></tr>
      </tbody>
    </table>
  </div>
  <div class="sbar"><div class="sthumb"></div></div>
  <div class="toggle"><svg viewBox="0 0 9 12"><path d="M2 1.500 L6.800 6 L2 10.500" fill="none" stroke="#fff" stroke-width="1.500" stroke-linecap="round" stroke-linejoin="round"/></svg></div>
  <div class="vline"></div>
  <div class="pager"><span class="prev">&lt;</span><span class="cur">1</span><span>2</span><span>3</span><span>4</span><span>5</span><span>&gt;</span></div>
  <div class="side">
    <div class="card">
      <div class="tabs">
        <div class="tab act"><span class="ic"><svg width="11" height="11" viewBox="0 0 12 12"><circle cx="4.600" cy="4.400" r="3.500" fill="#eef1f5" stroke="#aeb5c0" stroke-width="1.100"/><path d="M7.400 7.200 L10.800 10.600" stroke="#2b2f36" stroke-width="2.300" stroke-linecap="round"/></svg></span>Filters</div>
        <div class="tab" style="left:125px;width:127px"><span class="ic"><svg width="11" height="11" viewBox="0 0 12 12"><rect x="1" y="1.500" width="8.500" height="10" fill="#eceff3" stroke="#c9ced6" stroke-width="0.600"/><path d="M3.200 8.600 L9.400 1.800 L11.200 3.400 L5 10.200 L2.600 10.900Z" fill="#e7b93c"/><path d="M3.200 8.600 L5 10.200 L2.600 10.900Z" fill="#7a6a4a"/></svg></span>Changes</div>
        <div class="tab" style="left:252px;width:125.400px"><span class="ic"><svg width="10.600" height="11.400" viewBox="0 0 11 12"><rect x="0.700" y="1.200" width="9.600" height="10.300" rx="1" fill="#d7d9dc" stroke="#c39a55" stroke-width="1.100"/><rect x="3.300" y="0.300" width="4.400" height="2" fill="#9a9fa6"/></svg></span>Lineups</div>
      </div>
      <div class="lbl" style="left:9.800px;top:45.500px">Site</div>
      <div class="seg"><span class="dk">DK</span><span class="fd">FD</span><span class="y">Y</span></div>
      <div class="lbl" style="left:193.400px;top:48.500px">Slate</div>
      <div class="sel" style="left:193.400px;top:64.200px;width:173.600px;height:25.900px">Main<svg viewBox="0 0 8 6"><path d="M1 1.200 L4 4.600 L7 1.200" fill="none" stroke="#444" stroke-width="1.100"/></svg></div>
      <div class="dl"><svg viewBox="0 0 12 12"><path d="M6 0.500 V7 M3 4.500 L6 7.500 L9 4.500" fill="none" stroke="#fff" stroke-width="1.700"/><path d="M0.800 8 V11.200 H11.200 V8" fill="none" stroke="#fff" stroke-width="1.700"/></svg>Download CSV</div>
      <div class="hr"></div>
      <div class="lbl" style="left:9.800px;top:141.500px">Search</div>
      <div class="search">Player name...<svg viewBox="0 0 12 12"><circle cx="5" cy="5" r="3.800" fill="none" stroke="#4a8ef0" stroke-width="1.200"/><path d="M7.800 7.800 L11 11" stroke="#4a8ef0" stroke-width="1.200" stroke-linecap="round"/></svg></div>
      <div class="lbl" style="left:193.400px;top:144.500px">Show</div>
      <div class="sel" style="left:193.400px;top:160.500px;width:173.600px">All Players<svg viewBox="0 0 8 6"><path d="M1 1.200 L4 4.600 L7 1.200" fill="none" stroke="#444" stroke-width="1.100"/></svg></div>
      <div class="lbl" style="left:9.800px;top:193.500px">Max Price</div>
      <div class="sel" style="left:9.800px;top:209.500px;width:357.200px">No Max<svg viewBox="0 0 8 6"><path d="M1 1.200 L4 4.600 L7 1.200" fill="none" stroke="#444" stroke-width="1.100"/></svg></div>
    </div>
  </div>
</div>
<div class="games">
  <div class="gc" style="left:8.300px">
    <div class="t ttl" style="left:7.900px;top:9.500px">PHI@ORL</div>
    <div class="t" style="left:167px;top:8.600px">Total: 227.0</div><div class="u" style="left:167px;top:23.900px;width:63.400px;background:#6cc13b"></div>
    <div class="t" style="right:7.900px;top:8.600px">7:00 PM ET</div>
    <div class="glogo" style="left:27.400px;top:34.300px;width:31.600px;height:31.600px"><svg class="lg" viewBox="0 0 24 24"><circle cx="12" cy="12" r="12" fill="#2b62b8"/><g font-family="Liberation Sans, sans-serif" font-weight="700" font-size="2.9" fill="#e6eefb"><text transform="translate(3.24,10.45) rotate(-80.0) scale(1,1)" text-anchor="middle">P</text><text transform="translate(3.90,8.30) rotate(-65.5) scale(1,1)" text-anchor="middle">H</text><text transform="translate(5.09,6.39) rotate(-50.9) scale(1,1)" text-anchor="middle">I</text><text transform="translate(6.72,4.83) rotate(-36.4) scale(1,1)" text-anchor="middle">L</text><text transform="translate(8.69,3.74) rotate(-21.8) scale(1,1)" text-anchor="middle">A</text><text transform="translate(10.87,3.17) rotate(-7.3) scale(1,1)" text-anchor="middle">D</text><text transform="translate(13.13,3.17) rotate(7.3) scale(1,1)" text-anchor="middle">E</text><text transform="translate(15.31,3.74) rotate(21.8) scale(1,1)" text-anchor="middle">L</text><text transform="translate(17.28,4.83) rotate(36.4) scale(1,1)" text-anchor="middle">P</text><text transform="translate(18.91,6.39) rotate(50.9) scale(1,1)" text-anchor="middle">H</text><text transform="translate(20.10,8.30) rotate(65.5) scale(1,1)" text-anchor="middle">I</text><text transform="translate(20.76,10.45) rotate(80.0) scale(1,1)" text-anchor="middle">A</text></g><g font-family="Liberation Sans, sans-serif" font-weight="700" font-size="2.6" fill="#e6eefb"><text transform="translate(1.76,15.73) rotate(430.0) scale(1,1)" text-anchor="middle">★</text><text transform="translate(4.07,19.48) rotate(406.7) scale(1,1)" text-anchor="middle">★</text><text transform="translate(7.68,22.01) rotate(383.3) scale(1,1)" text-anchor="middle">★</text><text transform="translate(12.00,22.90) rotate(360.0) scale(1,1)" text-anchor="middle">★</text><text transform="translate(16.32,22.01) rotate(336.7) scale(1,1)" text-anchor="middle">★</text><text transform="translate(19.93,19.48) rotate(313.3) scale(1,1)" text-anchor="middle">★</text><text transform="translate(22.24,15.73) rotate(290.0) scale(1,1)" text-anchor="middle">★</text></g><circle cx="12" cy="12" r="8" fill="#fff"/><path d="M14 4.600 Q19.500 10 16 19 M8 6 Q14 8.600 19.600 9.600 M6.500 9 Q10 7 14.600 4.400" stroke="#9fb9e6" stroke-width="0.600" fill="none"/><text x="9.600" y="15.400" font-size="9.400" font-weight="700" text-anchor="middle" font-family="Liberation Serif, serif" stroke-width="0.250"><tspan fill="#d6324a" stroke="#d6324a">7</tspan><tspan fill="#2b5cb0" stroke="#2b5cb0">6</tspan></text><text x="16.600" y="15.400" font-size="3.800" font-weight="700" font-style="italic" text-anchor="middle" fill="#2b5cb0" font-family="Liberation Serif, serif">ers</text></svg></div>
    <div class="t" style="left:72.600px;top:41.300px">115.25&nbsp; PHI</div><div class="u" style="left:72.600px;top:56.600px;width:61px;background:#6cc13b"></div>
    <div class="t" style="left:279px;top:41.300px">ORL&nbsp; 111.75</div><div class="u" style="left:279px;top:56.600px;width:62.300px;background:#d8c53f"></div>
    <div class="glogo" style="left:353.500px;top:40.300px;width:27px;height:20.250px"><svg class="lg" viewBox="0 0 26 19.500" style="width:26px;height:19.500px;margin-top:-0.600px"><text x="12.500" y="3" font-size="2.700" font-weight="700" text-anchor="middle" fill="#2a2a2a" textLength="9.500" lengthAdjust="spacingAndGlyphs" font-family="Liberation Sans, sans-serif">ORLANDO</text><text transform="translate(13.100,12.600) scale(0.950,1.450)" font-size="7.800" font-weight="700" text-anchor="middle" fill="#1a1d26" font-family="Liberation Sans, sans-serif">MAGIC</text><text transform="translate(12.700,12.300) scale(0.950,1.450)" font-size="7.800" font-weight="700" text-anchor="middle" fill="#4388d2" stroke="#2c5fa6" stroke-width="0.300" font-family="Liberation Sans, sans-serif">MAGIC</text><path d="M3.600 14.800 Q9 10.400 17 11.400 L16.400 13 Q9.500 12 3.600 14.800Z" fill="#111"/><circle cx="17" cy="14.800" r="3.600" fill="#3f7fc6" stroke="#1b2030" stroke-width="0.900"/><path d="M14.200 13.400 Q17 13.800 19.800 16.800 M16 11.600 Q16.300 15.200 18.600 17.800" stroke="#dbe5f3" stroke-width="0.500" fill="none"/></svg></div>
    <div class="th" style="left:1px;width:202.700px"><b style="left:6px">Pos</b><b style="left:34px">Player</b><b style="right:30px">Own</b><b style="right:4px">Proj</b></div>
    <div class="th" style="left:204.600px;width:201px"><b style="left:6px">Pos</b><b style="left:34px">Player</b><b style="right:30px">Own</b><b style="right:4px">Proj</b></div>
  </div>
  <div class="gc" style="left:421.700px">
    <div class="t ttl" style="left:7.900px;top:9.500px">NOP@WAS</div>
    <div class="t" style="left:170.300px;top:8.600px">Total: 243.5</div><div class="u" style="left:170.300px;top:23.900px;width:64.400px;background:#6cc13b"></div>
    <div class="t" style="right:7.900px;top:8.600px">7:00 PM ET</div>
    <div class="glogo" style="left:26.500px;top:37.700px;width:33px;height:25px"><svg class="lg" viewBox="0 0 33 25"><path d="M0 5.400 L3 3.200 L14.800 1.800 L16.400 0 L18 1.800 L30 3.200 L33 5.400 L32.200 12.400 L25 18.600 H8 L0.800 12.400Z" fill="#c9a960"/><path d="M0.800 5.800 L3.300 3.900 L16.400 2.200 L29.700 3.900 L32.200 5.800 L31.500 12 L24.600 18 H8.400 L1.500 12Z" fill="#1f3a73"/><path d="M5.500 12.600 H13.600 L10.400 16.200 Q7.500 15.600 5.500 12.600Z M27.500 12.600 H19.400 L22.600 16.200 Q25.500 15.600 27.500 12.600Z" fill="#b89d58"/><path d="M7.600 18 Q16.500 20.400 25.400 18 Q23.500 25.200 16.500 25 Q9.500 25.200 7.600 18Z" fill="#d22f45" stroke="#c9a960" stroke-width="0.500"/><text transform="translate(16.500,11.400) scale(0.400,1)" font-size="9.400" font-weight="700" text-anchor="middle" fill="#fff" font-family="Liberation Sans, sans-serif">NEW ORLEANS</text><path d="M14.600 10.500 h3.800 v2.600 h-3.800Z" fill="#1f3a73"/><circle cx="16.500" cy="11.600" r="1.700" fill="#f2f2f2"/><path d="M16.500 13 L17.600 19 L16.500 21 L15.400 19Z" fill="#d22f45"/><path d="M14.600 15 L16.500 13.600 L18.400 15 L17.600 19.400 H15.400Z" fill="none" stroke="#c9a960" stroke-width="0.500"/><text x="16.500" y="23.400" font-size="2.600" font-weight="700" text-anchor="middle" fill="#f6d9dd" textLength="9" lengthAdjust="spacingAndGlyphs" font-family="Liberation Sans, sans-serif">PELICANS</text></svg></div>
    <div class="t" style="left:72.600px;top:41.300px">123.25&nbsp; NOP</div><div class="u" style="left:72.600px;top:56.600px;width:68px;background:#6cc13b"></div>
    <div class="t" style="left:272px;top:41.300px">WAS&nbsp; 120.25</div><div class="u" style="left:272px;top:56.600px;width:69px;background:#6cc13b"></div>
    <div class="glogo" style="left:354.100px;top:37.600px;width:25.600px;height:25.600px"><svg class="lg" viewBox="0 0 24 24"><circle cx="12" cy="12" r="12" fill="#d22f45"/><path d="M0 12 H24 A12 12 0 0 1 23.400 15.600 H0.600 A12 12 0 0 1 0 12Z" fill="#fff"/><path d="M1.400 17.600 H22.600 A12 12 0 0 1 1.400 17.600Z" fill="#1b2f63"/><g font-family="Liberation Sans, sans-serif" font-weight="700" font-size="2.7" fill="#fff"><text transform="translate(4.32,8.52) rotate(-62.0) scale(1,1)" text-anchor="middle">W</text><text transform="translate(5.51,6.80) rotate(-48.2) scale(1,1)" text-anchor="middle">A</text><text transform="translate(7.08,5.43) rotate(-34.4) scale(1,1)" text-anchor="middle">S</text><text transform="translate(8.93,4.46) rotate(-20.7) scale(1,1)" text-anchor="middle">H</text><text transform="translate(10.96,3.96) rotate(-6.9) scale(1,1)" text-anchor="middle">I</text><text transform="translate(13.04,3.96) rotate(6.9) scale(1,1)" text-anchor="middle">N</text><text transform="translate(15.07,4.46) rotate(20.7) scale(1,1)" text-anchor="middle">G</text><text transform="translate(16.92,5.43) rotate(34.4) scale(1,1)" text-anchor="middle">T</text><text transform="translate(18.49,6.80) rotate(48.2) scale(1,1)" text-anchor="middle">O</text><text transform="translate(19.68,8.52) rotate(62.0) scale(1,1)" text-anchor="middle">N</text></g><g font-family="Liberation Sans, sans-serif" font-weight="700" font-size="2.6" fill="#fff"><text transform="translate(6.22,21.24) rotate(392.0) scale(1,1)" text-anchor="middle">W</text><text transform="translate(8.03,22.15) rotate(381.3) scale(1,1)" text-anchor="middle">I</text><text transform="translate(9.98,22.71) rotate(370.7) scale(1,1)" text-anchor="middle">Z</text><text transform="translate(12.00,22.90) rotate(360.0) scale(1,1)" text-anchor="middle">A</text><text transform="translate(14.02,22.71) rotate(349.3) scale(1,1)" text-anchor="middle">R</text><text transform="translate(15.97,22.15) rotate(338.7) scale(1,1)" text-anchor="middle">D</text><text transform="translate(17.78,21.24) rotate(328.0) scale(1,1)" text-anchor="middle">S</text></g><circle cx="12" cy="13.200" r="7.900" fill="#fff"/><circle cx="12" cy="13.200" r="7.100" fill="#1b2f63"/><path d="M12 6.400 L13.100 20 H10.900Z" fill="#fff"/><path d="M10.600 7.400 Q6.600 12 8.600 19.200 M13.400 7.400 Q17.400 12 15.400 19.200" stroke="#fff" stroke-width="1" fill="none"/><path d="M11.200 8.400 Q8.800 13 10 19.800 M12.800 8.400 Q15.200 13 14 19.800" stroke="#fff" stroke-width="0.500" fill="none"/></svg></div>
    <div class="th" style="left:1px;width:202.700px"><b style="left:6px">Pos</b><b style="left:34px">Player</b><b style="right:30px">Own</b><b style="right:4px">Proj</b></div>
    <div class="th" style="left:204.600px;width:201px"><b style="left:6px">Pos</b><b style="left:34px">Player</b><b style="right:30px">Own</b><b style="right:4px">Proj</b></div>
  </div>
  <div class="gc" style="left:834.800px">
    <div class="t ttl" style="left:7.900px;top:9.500px">TOR@BOS</div>
    <div class="t" style="left:168.100px;top:8.600px">Total: 223.5</div><div class="u" style="left:168.100px;top:23.900px;width:65.100px;background:#8cc63f"></div>
    <div class="t" style="right:7.900px;top:8.600px">7:00 PM ET</div>
    <div class="glogo" style="left:26.500px;top:33.600px;width:32.700px;height:32.700px"><svg class="lg" viewBox="0 0 24 24"><circle cx="12" cy="12" r="11.500" fill="#111" stroke="#c4213f" stroke-width="0.900"/><g font-family="Liberation Sans, sans-serif" font-weight="700" font-size="3.9" fill="#fff"><text transform="translate(5.55,8.57) rotate(-62.0) scale(1,1)" text-anchor="middle">T</text><text transform="translate(7.18,6.52) rotate(-41.3) scale(1,1)" text-anchor="middle">O</text><text transform="translate(9.42,5.17) rotate(-20.7) scale(1,1)" text-anchor="middle">R</text><text transform="translate(12.00,4.70) rotate(0.0) scale(1,1)" text-anchor="middle">O</text><text transform="translate(14.58,5.17) rotate(20.7) scale(1,1)" text-anchor="middle">N</text><text transform="translate(16.82,6.52) rotate(41.3) scale(1,1)" text-anchor="middle">T</text><text transform="translate(18.45,8.57) rotate(62.0) scale(1,1)" text-anchor="middle">O</text></g><g font-family="Liberation Sans, sans-serif" font-weight="700" font-size="3.9" fill="#fff"><text transform="translate(3.08,16.74) rotate(422.0) scale(1,1)" text-anchor="middle">R</text><text transform="translate(5.33,19.58) rotate(401.3) scale(1,1)" text-anchor="middle">A</text><text transform="translate(8.44,21.45) rotate(380.7) scale(1,1)" text-anchor="middle">P</text><text transform="translate(12.00,22.10) rotate(360.0) scale(1,1)" text-anchor="middle">T</text><text transform="translate(15.56,21.45) rotate(339.3) scale(1,1)" text-anchor="middle">O</text><text transform="translate(18.67,19.58) rotate(318.7) scale(1,1)" text-anchor="middle">R</text><text transform="translate(20.92,16.74) rotate(298.0) scale(1,1)" text-anchor="middle">S</text></g><circle cx="12" cy="12" r="5.600" fill="#b9bcc0"/><path d="M7 11 Q11 7.400 16.400 8.600 Q12 9.400 9.400 12.200Z M7.600 14 Q11 10.400 16.800 11.400 Q12.600 12.600 10.400 15.400Z M9.400 16.600 Q12 13.800 16.200 14.400 Q13.400 15.600 12 17.600Z" fill="#111"/><path d="M15.400 7.600 Q18.400 12 15.400 16.600" stroke="#111" stroke-width="0.700" fill="none"/></svg></div>
    <div class="t" style="left:72.600px;top:41.300px">106.75&nbsp; TOR</div><div class="u" style="left:72.600px;top:56.600px;width:67px;background:#f5b341"></div>
    <div class="t" style="left:275.700px;top:41.300px">BOS&nbsp; 116.75</div><div class="u" style="left:275.700px;top:56.600px;width:65.100px;background:#6cc13b"></div>
    <div class="glogo" style="left:352px;top:35px;width:30px;height:30px"><svg class="lg" viewBox="0 0 24 25" style="height:25px;overflow:visible"><circle cx="12" cy="12.300" r="9.600" fill="#fff" stroke="#178a43" stroke-width="3"/><g font-family="Liberation Sans, sans-serif" font-weight="700" font-size="2.6" fill="#e4f4e8"><text transform="translate(4.47,7.95) rotate(-60.0) scale(1,1)" text-anchor="middle">B</text><text transform="translate(6.89,5.26) rotate(-36.0) scale(1,1)" text-anchor="middle">O</text><text transform="translate(10.19,3.79) rotate(-12.0) scale(1,1)" text-anchor="middle">S</text><text transform="translate(13.81,3.79) rotate(12.0) scale(1,1)" text-anchor="middle">T</text><text transform="translate(17.11,5.26) rotate(36.0) scale(1,1)" text-anchor="middle">O</text><text transform="translate(19.53,7.95) rotate(60.0) scale(1,1)" text-anchor="middle">N</text></g><g font-family="Liberation Sans, sans-serif" font-weight="700" font-size="2.6" fill="#e4f4e8"><text transform="translate(2.82,17.60) rotate(420.0) scale(1,1)" text-anchor="middle">C</text><text transform="translate(5.19,20.42) rotate(400.0) scale(1,1)" text-anchor="middle">E</text><text transform="translate(8.37,22.26) rotate(380.0) scale(1,1)" text-anchor="middle">L</text><text transform="translate(12.00,22.90) rotate(360.0) scale(1,1)" text-anchor="middle">T</text><text transform="translate(15.63,22.26) rotate(340.0) scale(1,1)" text-anchor="middle">I</text><text transform="translate(18.81,20.42) rotate(320.0) scale(1,1)" text-anchor="middle">C</text><text transform="translate(21.18,17.60) rotate(300.0) scale(1,1)" text-anchor="middle">S</text></g><path d="M9 2.600 Q11.200 -0.400 13.600 2.400 L13.800 4 H8.800Z" fill="#151515"/><circle cx="11.300" cy="5.800" r="1.900" fill="#e6c39a"/><path d="M9.600 6.400 Q11 8.600 13 6.400 L13 8 H9.600Z" fill="#6b3a1a"/><path d="M9 8 L6.400 5 L7.400 4.400 L10 7.400Z" fill="#e6c39a"/><path d="M9.200 7.800 L13.800 7.800 L18 12.600 L16.600 14.200 L14 11.600 L14 15 L9 15Z" fill="#fbfbfb" stroke="#999" stroke-width="0.300"/><path d="M9.800 9.400 L13.200 9.400 L13.600 15.400 L9.400 15.400Z" fill="#2f9a4a"/><path d="M10.600 10 l1 4 M12.400 10 l-0.600 4" stroke="#b08a2a" stroke-width="0.500"/><path d="M9.400 15.200 H13.800 L13.200 19 L11 22 L10.800 24.800 L8 25 L8.400 21.400 L10 18.400Z" fill="#121212"/><path d="M10.600 21.500 L11.800 24 L9.800 24.400Z" fill="#fff"/><circle cx="5.450" cy="3.100" r="2.700" fill="#a62b2b"/><path d="M3.400 1.800 Q5.400 3 7.600 1.800 M5.450 0.400 V5.800" stroke="#6b1616" stroke-width="0.400" fill="none"/><path d="M17.800 14.400 L18.300 24.600" stroke="#8a2d22" stroke-width="0.900"/><circle cx="17.700" cy="14.200" r="0.900" fill="#e6c39a"/></svg></div>
    <div class="th" style="left:1px;width:202.700px"><b style="left:6px">Pos</b><b style="left:34px">Player</b><b style="right:30px">Own</b><b style="right:4px">Proj</b></div>
    <div class="th" style="left:204.600px;width:201px"><b style="left:6px">Pos</b><b style="left:34px">Player</b><b style="right:30px">Own</b><b style="right:4px">Proj</b></div>
  </div>
</div>
<div class="bline"></div>
<div class="bbar">
  <div class="btn" style="left:296.500px;width:93.100px">Projections</div>
  <div class="btn" style="left:409.300px;width:76.300px">Settings</div>
  <div class="btn" style="left:505.300px;width:62.200px">Cores</div>
  <div class="btn" style="left:587px;width:67.500px">Stacks</div>
  <div class="btn" style="left:674px;width:69.300px">Upload</div>
  <div class="gen">Generate</div>
  <div class="num">1</div>
</div>

</body></html>
